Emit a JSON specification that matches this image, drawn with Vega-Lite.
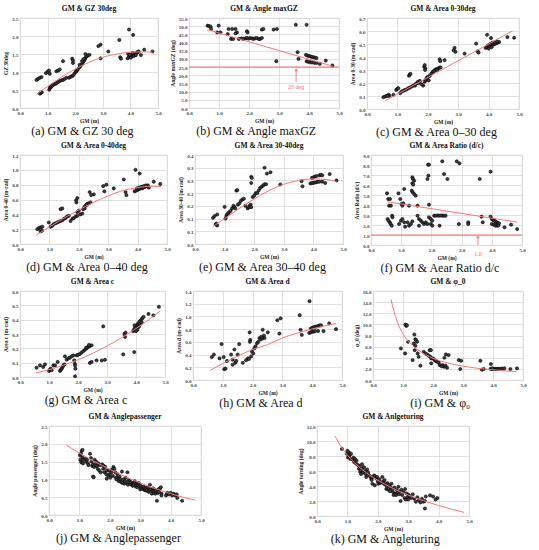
{
  "$schema": "https://vega.github.io/schema/vega-lite/v6.json",
  "padding": {"left": 3, "top": 4, "right": 2, "bottom": 2},
  "config": {
    "font": "Liberation Serif",
    "numberFormat": ".1f",
    "view": {"stroke": "#d4d4d4", "strokeWidth": 0.7},
    "axis": {"domain": false, "ticks": false, "grid": true, "tickCount": 20, "gridColor": "#d4d4d4", "gridWidth": 0.7, "labelOverlap": false, "labelFlush": false, "labelFontSize": 5, "labelFontWeight": "bold", "labelColor": "#444", "labelPadding": 2, "titleFontSize": 5.5, "titleFontWeight": "bold", "titleColor": "#222", "titlePadding": 3},
    "title": {"fontSize": 7.5, "fontWeight": "bold", "color": "#111", "offset": 4},
    "circle": {"size": 10, "fill": "#3c3c3c", "stroke": "#000", "strokeWidth": 0.6, "opacity": 1},
    "line": {"color": "#f4787c", "strokeWidth": 1, "interpolate": "monotone"}
  },
  "datasets": {
    "a": [
      {"GM":0.6,"v":0.78},{"GM":0.66,"v":0.81},{"GM":0.72,"v":0.84},{"GM":0.78,"v":0.86},
      {"GM":0.72,"v":0.40},{"GM":0.76,"v":0.42},{"GM":0.79,"v":0.44},
      {"GM":0.94,"v":0.97},{"GM":1.0,"v":1.01},{"GM":1.05,"v":1.04},{"GM":1.08,"v":0.95},
      {"GM":1.06,"v":0.51},{"GM":1.08,"v":0.56},{"GM":1.12,"v":0.58},{"GM":1.14,"v":0.60},{"GM":1.18,"v":0.63},{"GM":1.22,"v":0.65},{"GM":1.28,"v":0.67},{"GM":1.32,"v":0.69},
      {"GM":1.32,"v":1.02},{"GM":1.38,"v":1.04},{"GM":1.44,"v":1.07},{"GM":1.56,"v":1.3},
      {"GM":1.38,"v":0.72},{"GM":1.44,"v":0.75},{"GM":1.5,"v":0.77},{"GM":1.56,"v":0.78},{"GM":1.62,"v":0.81},{"GM":1.68,"v":0.84},
      {"GM":1.77,"v":0.84},{"GM":1.82,"v":0.86},{"GM":1.87,"v":0.88},
      {"GM":1.89,"v":1.37},{"GM":1.92,"v":1.32},{"GM":1.92,"v":1.25},
      {"GM":1.92,"v":0.9},{"GM":1.97,"v":0.95},{"GM":2.01,"v":1.0},{"GM":2.04,"v":1.02},{"GM":2.07,"v":1.05},
      {"GM":2.1,"v":1.08},{"GM":2.16,"v":1.13},{"GM":2.2,"v":1.18},{"GM":2.24,"v":1.22},{"GM":2.28,"v":1.27},{"GM":2.32,"v":1.31},{"GM":2.35,"v":1.35},{"GM":2.38,"v":1.4},{"GM":2.42,"v":1.44},{"GM":2.46,"v":1.46},{"GM":2.52,"v":1.48},{"GM":2.37,"v":1.5},{"GM":2.16,"v":1.2},{"GM":2.25,"v":1.3},{"GM":2.3,"v":1.36},
      {"GM":2.84,"v":1.72},{"GM":2.92,"v":1.76},{"GM":2.92,"v":1.38},{"GM":3.2,"v":1.57},{"GM":3.6,"v":1.89},{"GM":3.63,"v":1.41},{"GM":3.66,"v":1.37},{"GM":3.95,"v":2.18},{"GM":4.1,"v":2.03},
      {"GM":3.9,"v":1.38},{"GM":3.95,"v":1.42},{"GM":4.0,"v":1.45},{"GM":4.02,"v":1.4},{"GM":4.05,"v":1.48},{"GM":4.1,"v":1.44},{"GM":4.12,"v":1.5},{"GM":4.15,"v":1.46},{"GM":4.18,"v":1.52},{"GM":4.2,"v":1.47},{"GM":4.25,"v":1.55},{"GM":4.28,"v":1.56},{"GM":4.3,"v":1.57},{"GM":4.38,"v":1.47},{"GM":3.92,"v":1.5},{"GM":3.98,"v":1.48},{"GM":4.08,"v":1.53},
      {"GM":4.5,"v":1.62},{"GM":4.8,"v":1.57}
    ],
    "a_fit": [
      {"GM":0.6,"v":0.38},{"GM":1.0,"v":0.6},{"GM":1.5,"v":0.86},{"GM":2.0,"v":1.08},{"GM":2.5,"v":1.27},{"GM":3.0,"v":1.41},{"GM":3.5,"v":1.5},{"GM":4.0,"v":1.55},{"GM":4.5,"v":1.56},{"GM":4.8,"v":1.55}
    ],
    "b": [
      {"GM":0.62,"v":50.3},{"GM":0.67,"v":50.1},{"GM":0.72,"v":49.7},{"GM":0.74,"v":48.3},{"GM":0.99,"v":50.3},{"GM":0.94,"v":46.2},{"GM":1.05,"v":46.2},
      {"GM":1.32,"v":48.3},{"GM":1.29,"v":45.2},{"GM":1.44,"v":48.3},{"GM":1.55,"v":48.3},{"GM":1.6,"v":46.2},{"GM":1.55,"v":45.6},
      {"GM":1.4,"v":42.2},{"GM":1.47,"v":42.2},{"GM":1.66,"v":42.2},{"GM":1.75,"v":42.5},{"GM":1.82,"v":42.2},{"GM":1.88,"v":42.6},{"GM":1.93,"v":42.8},{"GM":1.98,"v":42.4},{"GM":2.04,"v":42.8},{"GM":2.1,"v":42.5},{"GM":2.15,"v":42.2},{"GM":2.2,"v":42.6},{"GM":2.26,"v":42.8},{"GM":2.32,"v":42.2},
      {"GM":1.93,"v":46.9},{"GM":1.95,"v":46.2},{"GM":2.37,"v":42.2},{"GM":2.43,"v":42.8},{"GM":2.43,"v":47.9},{"GM":2.48,"v":48.3},{"GM":2.82,"v":47.9},{"GM":2.93,"v":48.3},{"GM":2.91,"v":28.6},
      {"GM":3.56,"v":50.9},{"GM":3.92,"v":50.9},{"GM":3.62,"v":34.1},{"GM":3.65,"v":30.0},
      {"GM":3.9,"v":32.5},{"GM":3.95,"v":32.0},{"GM":4.0,"v":31.8},{"GM":4.05,"v":31.5},{"GM":4.1,"v":31.2},{"GM":4.15,"v":31.0},{"GM":4.2,"v":30.8},{"GM":4.25,"v":30.5},
      {"GM":3.92,"v":28.5},{"GM":3.98,"v":28.2},{"GM":4.05,"v":28.0},{"GM":4.1,"v":27.8},{"GM":4.18,"v":27.6},{"GM":4.25,"v":27.5},{"GM":4.36,"v":27.0},{"GM":4.56,"v":29.0},{"GM":4.78,"v":26.0}
    ],
    "b_fit": [{"GM":0.61,"v":47.9},{"GM":4.78,"v":25.6}],
    "c": [
      {"GM":0.54,"v":0.091},{"GM":0.6,"v":0.096},{"GM":0.65,"v":0.102},{"GM":0.71,"v":0.109},{"GM":0.74,"v":0.102},{"GM":0.68,"v":0.1},
      {"GM":0.87,"v":0.109},{"GM":0.96,"v":0.147},{"GM":1.0,"v":0.155},{"GM":1.03,"v":0.16},
      {"GM":1.09,"v":0.122},{"GM":1.14,"v":0.135},{"GM":1.2,"v":0.14},{"GM":1.25,"v":0.147},{"GM":1.3,"v":0.15},
      {"GM":1.36,"v":0.16},{"GM":1.41,"v":0.165},{"GM":1.47,"v":0.173},{"GM":1.52,"v":0.18},
      {"GM":1.38,"v":0.256},{"GM":1.41,"v":0.266},{"GM":1.43,"v":0.27},
      {"GM":1.58,"v":0.18},{"GM":1.63,"v":0.198},{"GM":1.68,"v":0.21},{"GM":1.74,"v":0.216},{"GM":1.6,"v":0.19},{"GM":1.7,"v":0.2},
      {"GM":1.85,"v":0.18},{"GM":1.9,"v":0.21},{"GM":1.93,"v":0.223},{"GM":1.8,"v":0.19},
      {"GM":1.88,"v":0.325},{"GM":1.9,"v":0.338},{"GM":1.92,"v":0.312},{"GM":1.91,"v":0.3},
      {"GM":1.96,"v":0.24},{"GM":2.01,"v":0.249},{"GM":2.07,"v":0.256},{"GM":1.98,"v":0.23},{"GM":2.03,"v":0.22},
      {"GM":2.12,"v":0.274},{"GM":2.17,"v":0.287},{"GM":2.23,"v":0.3},{"GM":2.28,"v":0.307},{"GM":2.34,"v":0.312},{"GM":2.38,"v":0.318},{"GM":2.2,"v":0.29},{"GM":2.3,"v":0.3},{"GM":2.42,"v":0.32},
      {"GM":2.39,"v":0.383},{"GM":2.41,"v":0.368},{"GM":2.55,"v":0.376},
      {"GM":2.85,"v":0.452},{"GM":2.88,"v":0.47},{"GM":2.91,"v":0.44},{"GM":3.21,"v":0.426},{"GM":3.59,"v":0.503},{"GM":3.64,"v":0.444},{"GM":3.67,"v":0.434},{"GM":3.95,"v":0.571},{"GM":4.08,"v":0.546},
      {"GM":3.9,"v":0.47},{"GM":3.95,"v":0.475},{"GM":4.0,"v":0.48},{"GM":4.05,"v":0.485},{"GM":4.1,"v":0.49},{"GM":4.15,"v":0.495},{"GM":4.2,"v":0.5},{"GM":4.25,"v":0.505},{"GM":4.3,"v":0.51},{"GM":4.35,"v":0.515},{"GM":3.98,"v":0.49},{"GM":4.05,"v":0.5},{"GM":4.12,"v":0.51},{"GM":4.2,"v":0.515},{"GM":4.28,"v":0.52},{"GM":4.0,"v":0.465},{"GM":4.1,"v":0.475},
      {"GM":4.62,"v":0.553},{"GM":4.84,"v":0.548}
    ],
    "c_fit": [{"GM":0.6,"v":0.063},{"GM":4.78,"v":0.6}],
    "d": [
      {"GM":0.59,"v":0.2},{"GM":0.64,"v":0.215},{"GM":0.7,"v":0.224},{"GM":0.76,"v":0.233},{"GM":0.7,"v":0.17},{"GM":0.75,"v":0.18},
      {"GM":0.98,"v":0.29},{"GM":1.04,"v":0.233},{"GM":1.1,"v":0.247},{"GM":1.15,"v":0.27},{"GM":1.21,"v":0.28},{"GM":1.27,"v":0.29},
      {"GM":1.38,"v":0.47},{"GM":1.44,"v":0.48},
      {"GM":1.32,"v":0.3},{"GM":1.38,"v":0.31},{"GM":1.44,"v":0.32},{"GM":1.5,"v":0.34},{"GM":1.55,"v":0.35},{"GM":1.6,"v":0.37},{"GM":1.66,"v":0.38},
      {"GM":1.72,"v":0.31},{"GM":1.78,"v":0.34},{"GM":1.83,"v":0.35},{"GM":1.89,"v":0.37},{"GM":1.95,"v":0.38},
      {"GM":1.91,"v":0.59},{"GM":1.95,"v":0.62},{"GM":1.92,"v":0.56},
      {"GM":1.95,"v":0.43},{"GM":2.0,"v":0.45},{"GM":2.06,"v":0.4},{"GM":2.12,"v":0.41},
      {"GM":2.15,"v":0.47},{"GM":2.19,"v":0.5},{"GM":2.24,"v":0.52},{"GM":2.29,"v":0.54},{"GM":2.34,"v":0.55},{"GM":2.4,"v":0.56},{"GM":2.27,"v":0.53},{"GM":2.2,"v":0.48},
      {"GM":2.37,"v":0.7},{"GM":2.42,"v":0.66},{"GM":2.51,"v":0.67},
      {"GM":2.83,"v":0.78},{"GM":2.87,"v":0.71},{"GM":2.94,"v":0.8},{"GM":3.19,"v":0.75},{"GM":3.53,"v":0.87},{"GM":3.59,"v":0.7},{"GM":3.62,"v":0.66},{"GM":3.93,"v":1.0},{"GM":4.07,"v":0.95},
      {"GM":3.9,"v":0.71},{"GM":3.95,"v":0.72},{"GM":4.0,"v":0.73},{"GM":4.05,"v":0.74},{"GM":4.1,"v":0.75},{"GM":4.15,"v":0.75},{"GM":4.2,"v":0.76},{"GM":4.25,"v":0.77},{"GM":4.3,"v":0.78},{"GM":4.35,"v":0.79},{"GM":3.98,"v":0.75},{"GM":4.05,"v":0.76},{"GM":4.12,"v":0.77},{"GM":4.2,"v":0.78},{"GM":4.28,"v":0.79},{"GM":4.38,"v":0.76},
      {"GM":4.55,"v":0.84},{"GM":4.77,"v":0.81}
    ],
    "d_fit": [
      {"GM":0.55,"v":0.12},{"GM":1.0,"v":0.23},{"GM":1.5,"v":0.35},{"GM":2.0,"v":0.46},{"GM":2.5,"v":0.56},{"GM":3.0,"v":0.65},{"GM":3.5,"v":0.72},{"GM":4.0,"v":0.76},{"GM":4.5,"v":0.78},{"GM":4.8,"v":0.775}
    ],
    "e": [
      {"GM":0.61,"v":0.103},{"GM":0.66,"v":0.11},{"GM":0.75,"v":0.116},{"GM":0.7,"v":0.077},{"GM":0.75,"v":0.073},{"GM":0.72,"v":0.08},
      {"GM":1.0,"v":0.146},{"GM":1.03,"v":0.1},{"GM":1.06,"v":0.11},{"GM":1.08,"v":0.116},{"GM":1.12,"v":0.12},{"GM":1.15,"v":0.125},{"GM":1.2,"v":0.13},{"GM":1.25,"v":0.14},{"GM":1.3,"v":0.15},{"GM":1.33,"v":0.145},{"GM":1.36,"v":0.14},
      {"GM":1.4,"v":0.21},{"GM":1.43,"v":0.212},
      {"GM":1.45,"v":0.155},{"GM":1.5,"v":0.16},{"GM":1.55,"v":0.17},{"GM":1.6,"v":0.175},{"GM":1.65,"v":0.178},{"GM":1.7,"v":0.15},
      {"GM":1.78,"v":0.14},{"GM":1.82,"v":0.145},{"GM":1.85,"v":0.15},{"GM":1.88,"v":0.155},{"GM":1.9,"v":0.145},
      {"GM":1.9,"v":0.264},{"GM":1.92,"v":0.26},{"GM":1.9,"v":0.24},
      {"GM":1.95,"v":0.185},{"GM":2.0,"v":0.19},{"GM":2.05,"v":0.2},{"GM":2.1,"v":0.2},{"GM":2.15,"v":0.21},{"GM":2.2,"v":0.22},{"GM":2.25,"v":0.225},{"GM":2.3,"v":0.23},{"GM":2.35,"v":0.235},{"GM":2.4,"v":0.235},
      {"GM":2.35,"v":0.3},{"GM":2.43,"v":0.277},{"GM":2.55,"v":0.282},
      {"GM":2.88,"v":0.234},{"GM":3.6,"v":0.247},{"GM":3.63,"v":0.227},
      {"GM":3.9,"v":0.238},{"GM":3.95,"v":0.24},{"GM":4.0,"v":0.24},{"GM":4.05,"v":0.242},{"GM":4.1,"v":0.243},{"GM":4.15,"v":0.245},{"GM":4.2,"v":0.245},{"GM":4.3,"v":0.245},{"GM":3.95,"v":0.26},{"GM":4.0,"v":0.262},{"GM":4.05,"v":0.265},{"GM":4.1,"v":0.267},{"GM":4.2,"v":0.27},{"GM":4.25,"v":0.272},{"GM":4.3,"v":0.27},{"GM":4.4,"v":0.24},
      {"GM":4.55,"v":0.275},{"GM":4.78,"v":0.25}
    ],
    "e_fit": [
      {"GM":0.6,"v":0.068},{"GM":1.0,"v":0.1},{"GM":1.5,"v":0.14},{"GM":2.0,"v":0.177},{"GM":2.5,"v":0.21},{"GM":3.0,"v":0.235},{"GM":3.5,"v":0.25},{"GM":4.0,"v":0.256},{"GM":4.5,"v":0.253},{"GM":4.78,"v":0.245}
    ],
    "f": [
      {"GM":0.53,"v":5.17},{"GM":0.57,"v":4.6},{"GM":0.63,"v":4.6},{"GM":0.6,"v":3.93},{"GM":0.66,"v":3.93},
      {"GM":0.55,"v":2.6},{"GM":0.58,"v":2.43},{"GM":0.62,"v":2.27},{"GM":0.65,"v":2.1},{"GM":0.69,"v":1.93},{"GM":0.7,"v":2.93},{"GM":0.71,"v":2.77},
      {"GM":0.91,"v":5.17},{"GM":1.1,"v":5.6},{"GM":0.97,"v":4.6},{"GM":1.01,"v":4.1},{"GM":1.04,"v":3.93},{"GM":1.07,"v":4.17},
      {"GM":0.93,"v":2.1},{"GM":0.99,"v":2.43},{"GM":1.04,"v":2.6},{"GM":1.1,"v":2.27},{"GM":1.13,"v":1.83},
      {"GM":1.37,"v":6.77},{"GM":1.39,"v":6.6},{"GM":1.43,"v":6.43},{"GM":1.37,"v":6.17},{"GM":1.4,"v":6.03},
      {"GM":1.35,"v":5.43},{"GM":1.38,"v":5.27},{"GM":1.43,"v":5.1},{"GM":1.48,"v":4.93},{"GM":1.26,"v":3.93},
      {"GM":1.21,"v":2.27},{"GM":1.26,"v":1.93},{"GM":1.32,"v":2.1},{"GM":1.37,"v":2.37},{"GM":1.54,"v":3.93},
      {"GM":1.54,"v":2.93},{"GM":1.59,"v":2.6},{"GM":1.65,"v":2.43},{"GM":1.7,"v":2.27},{"GM":1.76,"v":2.1},{"GM":1.81,"v":2.27},{"GM":1.87,"v":2.1},{"GM":1.59,"v":1.93},
      {"GM":1.89,"v":8.03},{"GM":1.92,"v":8.03},{"GM":1.87,"v":6.6},{"GM":1.9,"v":6.93},{"GM":1.92,"v":4.03},
      {"GM":1.92,"v":2.77},{"GM":1.98,"v":2.6},{"GM":2.03,"v":2.43},{"GM":1.98,"v":2.1},{"GM":2.03,"v":1.93},
      {"GM":2.09,"v":2.93},{"GM":2.14,"v":2.93},{"GM":2.2,"v":2.95},{"GM":2.25,"v":2.93},{"GM":2.31,"v":2.95},{"GM":2.36,"v":2.93},{"GM":2.42,"v":2.93},{"GM":2.47,"v":2.93},
      {"GM":2.36,"v":8.37},{"GM":2.42,"v":7.1},{"GM":2.53,"v":6.6},{"GM":2.27,"v":1.93},
      {"GM":2.84,"v":8.37},{"GM":2.93,"v":8.17},{"GM":2.91,"v":2.1},{"GM":3.22,"v":2.27},{"GM":3.22,"v":2.1},
      {"GM":3.6,"v":6.6},{"GM":3.96,"v":7.33},{"GM":3.66,"v":2.83},{"GM":3.7,"v":2.27},
      {"GM":3.96,"v":2.83},{"GM":4.0,"v":2.6},{"GM":4.04,"v":2.5},{"GM":4.08,"v":2.43},{"GM":4.12,"v":2.37},{"GM":4.16,"v":2.27},{"GM":4.2,"v":2.2},{"GM":4.24,"v":2.17},
      {"GM":4.0,"v":2.1},{"GM":4.07,"v":2.03},{"GM":4.12,"v":1.93},{"GM":4.18,"v":1.93},{"GM":4.22,"v":1.95},
      {"GM":4.42,"v":1.77},{"GM":4.64,"v":2.03},{"GM":4.84,"v":1.6}
    ],
    "f_fit": [{"GM":0.55,"v":4.32},{"GM":4.85,"v":2.28}],
    "g": [
      {"GM":0.57,"v":0.065},{"GM":0.69,"v":0.081},{"GM":0.8,"v":0.07},{"GM":0.86,"v":0.088},
      {"GM":1.0,"v":0.042},{"GM":1.03,"v":0.051},{"GM":1.06,"v":0.058},{"GM":1.09,"v":0.047},{"GM":1.15,"v":0.081},{"GM":1.21,"v":0.081},{"GM":1.3,"v":0.105},
      {"GM":1.38,"v":0.042},{"GM":1.41,"v":0.051},{"GM":1.44,"v":0.058},{"GM":1.47,"v":0.07},{"GM":1.5,"v":0.081},{"GM":1.53,"v":0.088},
      {"GM":1.55,"v":0.144},{"GM":1.61,"v":0.121},{"GM":1.67,"v":0.13},{"GM":1.72,"v":0.135},{"GM":1.78,"v":0.144},{"GM":1.84,"v":0.151},
      {"GM":1.87,"v":0.116},{"GM":1.89,"v":0.093},{"GM":1.9,"v":0.081},{"GM":1.91,"v":0.058},{"GM":1.9,"v":0.005},
      {"GM":1.95,"v":0.151},{"GM":2.0,"v":0.155},{"GM":2.06,"v":0.16},{"GM":2.12,"v":0.17},{"GM":2.18,"v":0.18},{"GM":2.24,"v":0.19},{"GM":2.3,"v":0.2},{"GM":2.35,"v":0.21},{"GM":2.4,"v":0.215},{"GM":2.47,"v":0.221},{"GM":2.28,"v":0.205},{"GM":2.38,"v":0.225},
      {"GM":2.41,"v":0.098},{"GM":2.47,"v":0.105},{"GM":2.64,"v":0.116},
      {"GM":2.87,"v":0.353},{"GM":2.82,"v":0.115},{"GM":2.93,"v":0.12},
      {"GM":3.56,"v":0.158},{"GM":3.6,"v":0.3},{"GM":3.64,"v":0.31},{"GM":3.62,"v":0.28},{"GM":3.94,"v":0.174},
      {"GM":3.9,"v":0.32},{"GM":3.93,"v":0.33},{"GM":3.96,"v":0.34},{"GM":4.0,"v":0.35},{"GM":4.03,"v":0.36},{"GM":4.06,"v":0.37},{"GM":4.1,"v":0.38},{"GM":4.14,"v":0.39},{"GM":4.18,"v":0.4},{"GM":4.22,"v":0.41},{"GM":4.26,"v":0.42},{"GM":3.95,"v":0.36},{"GM":4.0,"v":0.32},{"GM":4.05,"v":0.33},{"GM":4.1,"v":0.35},{"GM":4.15,"v":0.37},{"GM":4.2,"v":0.38},
      {"GM":4.43,"v":0.44},{"GM":4.6,"v":0.43},{"GM":4.79,"v":0.49}
    ],
    "g_fit": [
      {"GM":0.55,"v":0.028},{"GM":1.0,"v":0.051},{"GM":1.5,"v":0.082},{"GM":2.0,"v":0.12},{"GM":2.5,"v":0.165},{"GM":3.0,"v":0.216},{"GM":3.5,"v":0.274},{"GM":4.0,"v":0.338},{"GM":4.5,"v":0.409},{"GM":4.83,"v":0.46}
    ],
    "h": [
      {"GM":0.63,"v":0.36},{"GM":0.7,"v":0.4},{"GM":0.89,"v":0.34},{"GM":0.96,"v":0.565},{"GM":1.03,"v":0.36},{"GM":1.05,"v":0.17},{"GM":1.09,"v":0.18},{"GM":1.14,"v":0.3},
      {"GM":1.28,"v":0.4},{"GM":1.39,"v":0.48},{"GM":1.33,"v":0.32},{"GM":1.33,"v":0.24},{"GM":1.42,"v":0.27},{"GM":1.45,"v":0.3},{"GM":1.5,"v":0.4},{"GM":1.55,"v":0.565},
      {"GM":1.67,"v":0.27},{"GM":1.78,"v":0.31},{"GM":1.84,"v":0.34},{"GM":1.88,"v":0.33},{"GM":1.9,"v":0.75},{"GM":1.92,"v":0.63},{"GM":1.91,"v":0.6},{"GM":1.95,"v":0.37},{"GM":1.98,"v":0.45},
      {"GM":2.02,"v":0.42},{"GM":2.06,"v":0.5},{"GM":2.1,"v":0.53},{"GM":2.15,"v":0.58},{"GM":2.19,"v":0.6},{"GM":2.23,"v":0.66},{"GM":2.27,"v":0.64},{"GM":2.29,"v":0.68},{"GM":2.32,"v":0.65},{"GM":2.34,"v":0.79},{"GM":2.38,"v":0.7},{"GM":2.4,"v":0.66},{"GM":2.51,"v":0.75},
      {"GM":2.83,"v":0.94},{"GM":2.94,"v":0.97},{"GM":2.9,"v":0.73},{"GM":3.58,"v":1.02},{"GM":3.61,"v":0.79},{"GM":3.65,"v":0.71},{"GM":3.91,"v":1.24},
      {"GM":3.9,"v":0.74},{"GM":3.95,"v":0.75},{"GM":4.0,"v":0.76},{"GM":4.05,"v":0.76},{"GM":4.1,"v":0.77},{"GM":4.2,"v":0.77},{"GM":4.38,"v":0.77},{"GM":3.95,"v":0.81},{"GM":4.0,"v":0.82},{"GM":4.05,"v":0.83},{"GM":4.1,"v":0.84},{"GM":4.15,"v":0.84},{"GM":4.2,"v":0.85},{"GM":4.25,"v":0.86},{"GM":4.3,"v":0.86},
      {"GM":4.57,"v":0.89},{"GM":4.8,"v":0.8}
    ],
    "h_fit": [
      {"GM":0.58,"v":0.155},{"GM":1.0,"v":0.259},{"GM":1.5,"v":0.375},{"GM":2.0,"v":0.48},{"GM":2.5,"v":0.555},{"GM":3.0,"v":0.662},{"GM":3.5,"v":0.738},{"GM":4.0,"v":0.804},{"GM":4.5,"v":0.861},{"GM":4.8,"v":0.89}
    ],
    "i": [
      {"GM":0.93,"v":5.67},{"GM":1.07,"v":4.78},{"GM":1.08,"v":9.97},{"GM":1.11,"v":9.73},{"GM":1.13,"v":9.85},{"GM":1.17,"v":6.87},{"GM":1.32,"v":3.58},{"GM":1.38,"v":8.18},
      {"GM":1.41,"v":7.34},{"GM":1.44,"v":7.16},{"GM":1.47,"v":6.87},{"GM":1.41,"v":6.15},{"GM":1.39,"v":5.37},{"GM":1.36,"v":6.57},{"GM":1.49,"v":4.78},{"GM":1.52,"v":4.18},{"GM":1.58,"v":2.57},
      {"GM":1.69,"v":5.07},{"GM":1.74,"v":4.78},{"GM":1.8,"v":4.6},{"GM":1.86,"v":4.36},{"GM":1.89,"v":5.37},{"GM":1.93,"v":5.37},{"GM":1.91,"v":4.18},{"GM":1.94,"v":3.88},{"GM":1.94,"v":2.99},
      {"GM":2.0,"v":3.88},{"GM":2.05,"v":3.58},{"GM":2.1,"v":3.4},{"GM":2.14,"v":3.28},{"GM":2.19,"v":3.16},{"GM":2.22,"v":2.69},{"GM":2.27,"v":2.57},{"GM":2.32,"v":2.69},{"GM":2.37,"v":2.39},{"GM":2.42,"v":2.57},{"GM":2.47,"v":2.21},{"GM":2.3,"v":2.45},
      {"GM":2.38,"v":4.0},{"GM":2.43,"v":4.6},{"GM":2.52,"v":4.48},{"GM":2.86,"v":3.58},{"GM":2.94,"v":3.46},{"GM":2.91,"v":1.97},{"GM":3.58,"v":3.46},{"GM":3.63,"v":1.85},{"GM":3.69,"v":1.97},{"GM":3.93,"v":2.87},
      {"GM":3.92,"v":2.0},{"GM":3.96,"v":1.97},{"GM":4.0,"v":2.03},{"GM":4.04,"v":1.97},{"GM":4.08,"v":2.0},{"GM":4.12,"v":1.97},{"GM":4.16,"v":2.03},{"GM":4.2,"v":1.97},{"GM":4.25,"v":2.0},{"GM":4.3,"v":2.05},{"GM":3.98,"v":2.1},
      {"GM":4.38,"v":2.09},{"GM":4.58,"v":1.97},{"GM":4.8,"v":2.09}
    ],
    "i_fit": [
      {"GM":0.6,"v":14.5},{"GM":0.7,"v":12.3},{"GM":0.8,"v":10.6},{"GM":1.0,"v":8.3},{"GM":1.25,"v":6.5},{"GM":1.5,"v":5.4},{"GM":2.0,"v":3.9},{"GM":2.5,"v":3.05},{"GM":3.0,"v":2.5},{"GM":3.5,"v":2.1},{"GM":4.0,"v":1.83},{"GM":4.5,"v":1.6},{"GM":4.78,"v":1.5}
    ],
    "j": [
      {"GM":1.02,"v":1.68},{"GM":1.03,"v":1.55},{"GM":1.05,"v":1.72},{"GM":1.06,"v":1.48},{"GM":1.08,"v":1.8},{"GM":1.1,"v":1.83},{"GM":1.1,"v":1.62},{"GM":1.12,"v":1.55},{"GM":1.12,"v":1.45},
      {"GM":1.2,"v":1.58},{"GM":1.22,"v":1.5},{"GM":1.25,"v":1.55},{"GM":1.28,"v":1.45},{"GM":1.3,"v":1.4},
      {"GM":1.35,"v":1.72},{"GM":1.38,"v":1.6},{"GM":1.4,"v":1.5},{"GM":1.42,"v":1.38},{"GM":1.45,"v":1.42},{"GM":1.45,"v":1.08},{"GM":1.47,"v":1.06},{"GM":1.48,"v":1.35},{"GM":1.5,"v":1.55},{"GM":1.52,"v":1.4},
      {"GM":1.55,"v":1.5},{"GM":1.58,"v":1.38},{"GM":1.6,"v":1.3},{"GM":1.62,"v":1.45},{"GM":1.65,"v":1.25},{"GM":1.68,"v":1.4},{"GM":1.7,"v":1.2},
      {"GM":1.75,"v":1.42},{"GM":1.78,"v":1.3},{"GM":1.8,"v":1.38},{"GM":1.82,"v":1.2},{"GM":1.85,"v":1.35},{"GM":1.88,"v":1.15},{"GM":1.9,"v":1.25},{"GM":1.9,"v":1.02},
      {"GM":1.95,"v":1.1},{"GM":1.98,"v":1.25},{"GM":2.0,"v":1.15},{"GM":2.02,"v":1.05},{"GM":2.05,"v":1.2},{"GM":2.08,"v":1.28},{"GM":2.1,"v":1.1},
      {"GM":2.12,"v":1.35},{"GM":2.15,"v":1.3},{"GM":2.18,"v":1.2},{"GM":2.2,"v":1.05},{"GM":2.22,"v":1.0},{"GM":2.25,"v":1.15},{"GM":2.28,"v":1.05},{"GM":2.3,"v":0.95},
      {"GM":2.32,"v":1.08},{"GM":2.35,"v":1.0},{"GM":2.38,"v":0.92},{"GM":2.4,"v":1.22},{"GM":2.42,"v":0.9},{"GM":2.45,"v":1.0},{"GM":2.48,"v":0.88},{"GM":2.5,"v":0.95},
      {"GM":2.52,"v":1.05},{"GM":2.55,"v":0.9},{"GM":2.58,"v":1.2},{"GM":2.6,"v":0.85},{"GM":2.62,"v":0.98},{"GM":2.65,"v":0.95},{"GM":2.68,"v":0.88},{"GM":2.7,"v":0.92},
      {"GM":2.72,"v":0.85},{"GM":2.75,"v":0.82},{"GM":2.78,"v":0.9},{"GM":2.8,"v":0.85},{"GM":2.82,"v":0.95},{"GM":2.85,"v":0.8},{"GM":2.88,"v":0.88},{"GM":2.9,"v":0.78},
      {"GM":2.92,"v":0.85},{"GM":2.95,"v":0.9},{"GM":2.98,"v":0.8},{"GM":3.0,"v":0.72},{"GM":3.02,"v":0.82},{"GM":3.05,"v":0.75},{"GM":3.08,"v":0.78},{"GM":3.1,"v":0.72},
      {"GM":3.12,"v":0.8},{"GM":3.15,"v":0.7},{"GM":3.18,"v":0.75},{"GM":3.2,"v":0.68},{"GM":3.22,"v":0.72},{"GM":3.25,"v":0.78},{"GM":3.28,"v":0.65},{"GM":3.3,"v":0.7},
      {"GM":3.32,"v":0.85},{"GM":3.35,"v":0.72},{"GM":3.38,"v":0.6},{"GM":3.4,"v":0.68},{"GM":3.42,"v":0.75},{"GM":3.45,"v":0.62},{"GM":3.48,"v":0.7},{"GM":3.5,"v":0.6},
      {"GM":3.52,"v":0.68},{"GM":3.55,"v":0.4},{"GM":3.58,"v":0.62},{"GM":3.6,"v":0.72},{"GM":3.62,"v":0.65},{"GM":3.65,"v":0.75},{"GM":3.68,"v":0.78},{"GM":3.7,"v":0.6},{"GM":3.7,"v":0.55},
      {"GM":3.85,"v":0.55},{"GM":3.88,"v":0.6},{"GM":3.9,"v":0.62},{"GM":3.95,"v":0.58},{"GM":4.0,"v":0.62},{"GM":4.05,"v":0.55},{"GM":4.1,"v":0.6},{"GM":4.15,"v":0.55},{"GM":4.2,"v":0.58},{"GM":4.22,"v":0.48},{"GM":4.38,"v":0.4}
    ],
    "j_fit": [
      {"GM":0.57,"v":1.96},{"GM":1.0,"v":1.74},{"GM":1.5,"v":1.5},{"GM":2.0,"v":1.28},{"GM":2.5,"v":1.08},{"GM":3.0,"v":0.9},{"GM":3.5,"v":0.74},{"GM":4.0,"v":0.6},{"GM":4.5,"v":0.48},{"GM":4.81,"v":0.42}
    ],
    "k": [
      {"GM":0.82,"v":8.95},
      {"GM":0.98,"v":8.3},{"GM":1.0,"v":8.7},{"GM":1.02,"v":7.8},{"GM":1.05,"v":8.5},{"GM":1.05,"v":8.0},{"GM":1.08,"v":8.2},{"GM":1.1,"v":7.6},{"GM":1.12,"v":8.3},
      {"GM":1.18,"v":7.5},{"GM":1.2,"v":7.8},{"GM":1.22,"v":7.2},{"GM":1.25,"v":7.6},{"GM":1.28,"v":7.0},{"GM":1.3,"v":7.4},
      {"GM":1.35,"v":6.8},{"GM":1.38,"v":6.3},{"GM":1.4,"v":6.6},{"GM":1.42,"v":5.9},{"GM":1.45,"v":6.1},{"GM":1.45,"v":5.6},{"GM":1.48,"v":6.9},{"GM":1.5,"v":6.4},{"GM":1.52,"v":5.8},
      {"GM":1.55,"v":6.5},{"GM":1.58,"v":6.0},{"GM":1.6,"v":5.6},{"GM":1.62,"v":5.2},{"GM":1.65,"v":6.2},{"GM":1.68,"v":5.8},{"GM":1.7,"v":5.5},
      {"GM":1.75,"v":5.3},{"GM":1.78,"v":5.0},{"GM":1.8,"v":4.8},{"GM":1.82,"v":4.3},{"GM":1.85,"v":5.2},{"GM":1.88,"v":5.4},{"GM":1.9,"v":5.3},{"GM":1.9,"v":4.1},
      {"GM":1.95,"v":5.0},{"GM":1.98,"v":5.2},{"GM":2.0,"v":4.6},{"GM":2.02,"v":4.3},{"GM":2.05,"v":4.9},{"GM":2.08,"v":4.4},{"GM":2.1,"v":4.5},
      {"GM":2.15,"v":5.2},{"GM":2.18,"v":4.6},{"GM":2.2,"v":4.3},{"GM":2.22,"v":4.8},{"GM":2.25,"v":4.2},{"GM":2.28,"v":3.6},{"GM":2.3,"v":3.9},
      {"GM":2.32,"v":4.4},{"GM":2.35,"v":3.5},{"GM":2.38,"v":4.1},{"GM":2.4,"v":3.3},{"GM":2.42,"v":3.8},{"GM":2.45,"v":4.3},{"GM":2.48,"v":3.6},{"GM":2.5,"v":3.2},
      {"GM":2.52,"v":2.8},{"GM":2.55,"v":3.8},{"GM":2.58,"v":3.0},{"GM":2.6,"v":2.8},{"GM":2.62,"v":3.5},{"GM":2.65,"v":3.1},{"GM":2.68,"v":3.9},{"GM":2.7,"v":2.9},
      {"GM":2.72,"v":3.3},{"GM":2.75,"v":2.0},{"GM":2.78,"v":3.5},{"GM":2.8,"v":2.8},{"GM":2.85,"v":3.2},{"GM":2.88,"v":2.4},{"GM":2.9,"v":3.6},{"GM":2.92,"v":2.2},
      {"GM":2.95,"v":3.0},{"GM":2.98,"v":2.5},{"GM":3.0,"v":2.2},{"GM":3.02,"v":2.8},{"GM":3.05,"v":2.6},{"GM":3.1,"v":2.4},
      {"GM":3.15,"v":2.9},{"GM":3.2,"v":2.3},{"GM":3.25,"v":1.9},{"GM":3.3,"v":2.5},{"GM":3.35,"v":2.1},{"GM":3.4,"v":1.8},{"GM":3.45,"v":2.3},{"GM":3.5,"v":1.9},{"GM":3.55,"v":1.0},{"GM":3.55,"v":2.0},
      {"GM":3.58,"v":2.6},{"GM":3.72,"v":2.75},{"GM":3.82,"v":2.6},{"GM":3.9,"v":2.2},{"GM":3.96,"v":2.4}
    ],
    "k_fit": [
      {"GM":0.59,"v":10.68},{"GM":0.8,"v":9.2},{"GM":1.0,"v":8.12},{"GM":1.5,"v":6.15},{"GM":2.0,"v":4.76},{"GM":2.5,"v":3.68},{"GM":3.0,"v":2.8},{"GM":3.5,"v":2.05},{"GM":4.0,"v":1.4},{"GM":4.5,"v":0.83},{"GM":4.84,"v":0.48}
    ]
  },
  "spacing": 3,
  "vconcat": [
    {
      "spacing": 7,
      "hconcat": [
        {
          "title": {"text": "(a) GM & GZ 30 deg", "orient": "bottom", "anchor": "middle", "fontSize": 12, "fontWeight": "normal", "offset": 2},
          "vconcat": [{
            "title": "GM & GZ 30deg",
            "width": 138, "height": 90,
            "layer": [
              {"data": {"name": "a"}, "mark": "circle",
               "encoding": {
                 "x": {"field": "GM", "type": "quantitative", "scale": {"domain": [0, 5], "nice": false}, "axis": {"values": [0, 1, 2, 3, 4, 5], "tickCount": 20, "title": "GM (m)"}},
                 "y": {"field": "v", "type": "quantitative", "scale": {"domain": [0, 2.5], "nice": false}, "axis": {"values": [0, 0.5, 1, 1.5, 2, 2.5], "tickCount": 20, "title": "GZ 30deg"}}}},
              {"data": {"name": "a_fit"}, "mark": "line",
               "encoding": {"x": {"field": "GM", "type": "quantitative"}, "y": {"field": "v", "type": "quantitative"}}}
            ]
          }]
        },
        {
          "title": {"text": "(b) GM & Angle maxGZ", "orient": "bottom", "anchor": "middle", "fontSize": 12, "fontWeight": "normal", "offset": 2},
          "vconcat": [{
            "title": "GM & Angle maxGZ",
            "width": 150, "height": 90,
            "layer": [
              {"data": {"name": "b"}, "mark": "circle",
               "encoding": {
                 "x": {"field": "GM", "type": "quantitative", "scale": {"domain": [0, 5], "nice": false}, "axis": {"values": [0, 1, 2, 3, 4, 5], "tickCount": 20, "title": "GM (m)"}},
                 "y": {"field": "v", "type": "quantitative", "scale": {"domain": [0, 55], "nice": false}, "axis": {"values": [0, 5, 10, 15, 20, 25, 30, 35, 40, 45, 50, 55], "tickCount": 20, "title": "Angle maxGZ (deg)"}}}},
              {"data": {"name": "b_fit"}, "mark": "line",
               "encoding": {"x": {"field": "GM", "type": "quantitative"}, "y": {"field": "v", "type": "quantitative"}}},
              {"data": {"values": [{}]}, "mark": {"type": "rule", "color": "#f06868", "strokeWidth": 1},
               "encoding": {"y": {"datum": 25}}},
              {"data": {"values": [{}]}, "mark": {"type": "rule", "color": "#f06868", "strokeWidth": 0.8},
               "encoding": {"x": {"datum": 3.57}, "y": {"datum": 16}, "y2": {"datum": 24}}},
              {"data": {"values": [{}]}, "mark": {"type": "point", "shape": "triangle-up", "filled": true, "color": "#f06868", "size": 10, "opacity": 1},
               "encoding": {"x": {"datum": 3.57}, "y": {"datum": 23.3}}},
              {"data": {"values": [{}]}, "mark": {"type": "text", "color": "#f06868", "fontSize": 6, "baseline": "middle"},
               "encoding": {"x": {"datum": 3.57}, "y": {"datum": 12.8}, "text": {"value": "25 deg"}}}
            ]
          }]
        },
        {
          "title": {"text": "(c) GM & Area 0–30 deg", "orient": "bottom", "anchor": "middle", "fontSize": 12, "fontWeight": "normal", "offset": 2},
          "vconcat": [{
            "title": "GM & Area 0-30deg",
            "width": 152, "height": 91,
            "layer": [
              {"data": {"name": "c"}, "mark": "circle",
               "encoding": {
                 "x": {"field": "GM", "type": "quantitative", "scale": {"domain": [0, 5], "nice": false}, "axis": {"values": [0, 1, 2, 3, 4, 5], "tickCount": 20, "title": "GM (m)"}},
                 "y": {"field": "v", "type": "quantitative", "scale": {"domain": [0, 0.7], "nice": false}, "axis": {"values": [0, 0.1, 0.2, 0.3, 0.4, 0.5, 0.6, 0.7], "tickCount": 20, "title": "Area 0-30 (m-rad)"}}}},
              {"data": {"name": "c_fit"}, "mark": "line",
               "encoding": {"x": {"field": "GM", "type": "quantitative"}, "y": {"field": "v", "type": "quantitative"}}}
            ]
          }]
        }
      ]
    },
    {
      "spacing": 7,
      "hconcat": [
        {
          "title": {"text": "(d) GM & Area 0–40 deg", "orient": "bottom", "anchor": "middle", "fontSize": 12, "fontWeight": "normal", "offset": 2},
          "vconcat": [{
            "title": "GM & Area 0-40deg",
            "width": 147, "height": 89,
            "layer": [
              {"data": {"name": "d"}, "mark": "circle",
               "encoding": {
                 "x": {"field": "GM", "type": "quantitative", "scale": {"domain": [0, 5], "nice": false}, "axis": {"values": [0, 1, 2, 3, 4, 5], "tickCount": 20, "title": "GM (m)"}},
                 "y": {"field": "v", "type": "quantitative", "scale": {"domain": [0, 1.2], "nice": false}, "axis": {"values": [0, 0.2, 0.4, 0.6, 0.8, 1, 1.2], "tickCount": 20, "title": "Area 0-40 (m-rad)"}}}},
              {"data": {"name": "d_fit"}, "mark": "line",
               "encoding": {"x": {"field": "GM", "type": "quantitative"}, "y": {"field": "v", "type": "quantitative"}}}
            ]
          }]
        },
        {
          "title": {"text": "(e) GM & Area 30–40 deg", "orient": "bottom", "anchor": "middle", "fontSize": 12, "fontWeight": "normal", "offset": 2},
          "vconcat": [{
            "title": "GM & Area 30-40deg",
            "width": 148, "height": 89,
            "layer": [
              {"data": {"name": "e"}, "mark": "circle",
               "encoding": {
                 "x": {"field": "GM", "type": "quantitative", "scale": {"domain": [0, 5], "nice": false}, "axis": {"values": [0, 1, 2, 3, 4, 5], "tickCount": 20, "title": "GM (m)"}},
                 "y": {"field": "v", "type": "quantitative", "scale": {"domain": [0, 0.35], "nice": false}, "axis": {"values": [0, 0.05, 0.1, 0.15, 0.2, 0.25, 0.3, 0.35], "tickCount": 20, "labelExpr": "format(datum.value + 0.0001, '.1f')", "title": "Area 30-40 (m-rad)"}}}},
              {"data": {"name": "e_fit"}, "mark": "line",
               "encoding": {"x": {"field": "GM", "type": "quantitative"}, "y": {"field": "v", "type": "quantitative"}}}
            ]
          }]
        },
        {
          "title": {"text": "(f) GM & Aear Ratio d/c", "orient": "bottom", "anchor": "middle", "fontSize": 12, "fontWeight": "normal", "offset": 2},
          "vconcat": [{
            "title": "GM & Area Ratio (d/c)",
            "width": 151, "height": 90,
            "layer": [
              {"data": {"name": "f"}, "mark": "circle",
               "encoding": {
                 "x": {"field": "GM", "type": "quantitative", "scale": {"domain": [0, 5], "nice": false}, "axis": {"values": [0, 1, 2, 3, 4, 5], "tickCount": 20, "title": "GM (m)"}},
                 "y": {"field": "v", "type": "quantitative", "scale": {"domain": [0, 9], "nice": false}, "axis": {"values": [0, 1, 2, 3, 4, 5, 6, 7, 8, 9], "tickCount": 20, "title": "Area Ratio (d/c)"}}}},
              {"data": {"name": "f_fit"}, "mark": "line",
               "encoding": {"x": {"field": "GM", "type": "quantitative"}, "y": {"field": "v", "type": "quantitative"}}},
              {"data": {"values": [{}]}, "mark": {"type": "rule", "color": "#f06868", "strokeWidth": 1},
               "encoding": {"y": {"datum": 1.0}}},
              {"data": {"values": [{}]}, "mark": {"type": "rule", "color": "#f06868", "strokeWidth": 0.8},
               "encoding": {"x": {"datum": 3.54}, "y": {"datum": 0}, "y2": {"datum": 0.85}}},
              {"data": {"values": [{}]}, "mark": {"type": "point", "shape": "triangle-up", "filled": true, "color": "#f06868", "size": 10, "opacity": 1},
               "encoding": {"x": {"datum": 3.54}, "y": {"datum": 0.82}}},
              {"data": {"values": [{}]}, "mark": {"type": "text", "color": "#f06868", "fontSize": 6, "baseline": "middle"},
               "encoding": {"x": {"datum": 3.54}, "y": {"datum": -0.85}, "text": {"value": "1.0"}}}
            ]
          }]
        }
      ]
    },
    {
      "spacing": 7,
      "hconcat": [
        {
          "title": {"text": "(g) GM & Area c", "orient": "bottom", "anchor": "middle", "fontSize": 12, "fontWeight": "normal", "offset": 2},
          "vconcat": [{
            "title": "GM & Area c",
            "width": 145, "height": 86,
            "layer": [
              {"data": {"name": "g"}, "mark": "circle",
               "encoding": {
                 "x": {"field": "GM", "type": "quantitative", "scale": {"domain": [0, 5], "nice": false}, "axis": {"values": [0, 1, 2, 3, 4, 5], "tickCount": 20, "title": "GM (m)"}},
                 "y": {"field": "v", "type": "quantitative", "scale": {"domain": [0, 0.6], "nice": false}, "axis": {"values": [0, 0.1, 0.2, 0.3, 0.4, 0.5, 0.6], "tickCount": 20, "title": "Area c (m-rad)"}}}},
              {"data": {"name": "g_fit"}, "mark": "line",
               "encoding": {"x": {"field": "GM", "type": "quantitative"}, "y": {"field": "v", "type": "quantitative"}}}
            ]
          }]
        },
        {
          "title": {"text": "(h) GM & Area d", "orient": "bottom", "anchor": "middle", "fontSize": 12, "fontWeight": "normal", "offset": 2},
          "vconcat": [{
            "title": "GM & Area d",
            "width": 149, "height": 89,
            "layer": [
              {"data": {"name": "h"}, "mark": "circle",
               "encoding": {
                 "x": {"field": "GM", "type": "quantitative", "scale": {"domain": [0, 5], "nice": false}, "axis": {"values": [0, 1, 2, 3, 4, 5], "tickCount": 20, "title": "GM (m)"}},
                 "y": {"field": "v", "type": "quantitative", "scale": {"domain": [0, 1.4], "nice": false}, "axis": {"values": [0, 0.2, 0.4, 0.6, 0.8, 1, 1.2, 1.4], "tickCount": 20, "title": "Area d (m-rad)"}}}},
              {"data": {"name": "h_fit"}, "mark": "line",
               "encoding": {"x": {"field": "GM", "type": "quantitative"}, "y": {"field": "v", "type": "quantitative"}}}
            ]
          }]
        },
        {
          "title": {"text": "(i) GM & φ₀", "orient": "bottom", "anchor": "middle", "fontSize": 12, "fontWeight": "normal", "offset": 2},
          "vconcat": [{
            "title": "GM & φ_0",
            "width": 150, "height": 89,
            "layer": [
              {"data": {"name": "i"}, "mark": "circle",
               "encoding": {
                 "x": {"field": "GM", "type": "quantitative", "scale": {"domain": [0, 5], "nice": false}, "axis": {"values": [0, 1, 2, 3, 4, 5], "tickCount": 20, "title": "GM (m)"}},
                 "y": {"field": "v", "type": "quantitative", "scale": {"domain": [0, 16], "nice": false}, "axis": {"values": [0, 2, 4, 6, 8, 10, 12, 14, 16], "tickCount": 20, "title": "φ_0 (deg)"}}}},
              {"data": {"name": "i_fit"}, "mark": "line",
               "encoding": {"x": {"field": "GM", "type": "quantitative"}, "y": {"field": "v", "type": "quantitative"}}}
            ]
          }]
        }
      ]
    },
    {
      "spacing": 0,
      "hconcat": [
        {"width": 12, "height": 1, "view": {"stroke": null}, "data": {"values": []}, "mark": "point", "encoding": {}},
        {
          "spacing": 92,
          "hconcat": [
            {
              "title": {"text": "(j) GM & Anglepassenger", "orient": "bottom", "anchor": "middle", "fontSize": 12, "fontWeight": "normal", "offset": 2},
              "vconcat": [{
                "title": "GM & Anglepassenger",
                "width": 152, "height": 89,
                "layer": [
                  {"data": {"name": "j"}, "mark": "circle",
                   "encoding": {
                     "x": {"field": "GM", "type": "quantitative", "scale": {"domain": [0, 5], "nice": false}, "axis": {"values": [0, 1, 2, 3, 4, 5], "tickCount": 20, "title": "GM (m)"}},
                     "y": {"field": "v", "type": "quantitative", "scale": {"domain": [0, 2.5], "nice": false}, "axis": {"values": [0, 0.5, 1, 1.5, 2, 2.5], "tickCount": 20, "title": "Angle passenger (deg)"}}}},
                  {"data": {"name": "j_fit"}, "mark": "line",
                   "encoding": {"x": {"field": "GM", "type": "quantitative"}, "y": {"field": "v", "type": "quantitative"}}}
                ]
              }]
            },
            {
              "title": {"text": "(k) GM & Angleturing", "orient": "bottom", "anchor": "middle", "fontSize": 12, "fontWeight": "normal", "offset": 2},
              "vconcat": [{
                "title": "GM & Anlgeturing",
                "width": 152, "height": 90,
                "layer": [
                  {"data": {"name": "k"}, "mark": "circle",
                   "encoding": {
                     "x": {"field": "GM", "type": "quantitative", "scale": {"domain": [0, 5], "nice": false}, "axis": {"values": [0, 1, 2, 3, 4, 5], "tickCount": 20, "title": "GM (m)"}},
                     "y": {"field": "v", "type": "quantitative", "scale": {"domain": [0, 12], "nice": false}, "axis": {"values": [0, 2, 4, 6, 8, 10, 12], "tickCount": 20, "title": "Angle turning (deg)"}}}},
                  {"data": {"name": "k_fit"}, "mark": "line",
                   "encoding": {"x": {"field": "GM", "type": "quantitative"}, "y": {"field": "v", "type": "quantitative"}}}
                ]
              }]
            }
          ]
        }
      ]
    }
  ]
}
